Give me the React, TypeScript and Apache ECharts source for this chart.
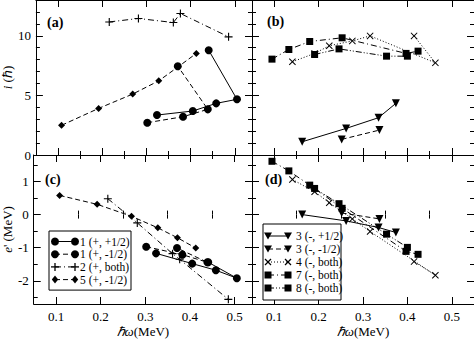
import React, { useEffect, useRef } from 'react';
import * as echarts from 'echarts';

// ---------- data ----------
// panel (a)/(c): positive parity
const s1pX = [0.324, 0.405, 0.458, 0.505, 0.441];
const s1pI = [3.35, 3.69, 4.33, 4.67, 8.79];
const s1pE = [-1.17, -1.48, -1.68, -1.92, -1.44];

const s1mX = [0.302, 0.383, 0.439, 0.371];
const s1mI = [2.71, 3.21, 3.83, 7.45];
const s1mE = [-0.97, -1.21, -1.44, -1.01];

const s2X = [0.216, 0.282, 0.361, 0.377, 0.486];
const s2I = [11.16, 11.45, 11.11, 11.87, 9.91];
const s2E = [0.48, -0.25, -1.18, -1.35, -2.56];

const s5X = [0.108, 0.192, 0.269, 0.328, 0.372, 0.413];
const s5I = [2.49, 3.91, 5.11, 6.22, 7.40, 8.52];
const s5E = [0.58, 0.31, -0.05, -0.40, -0.70, -1.01];

// panel (b)/(d): negative parity
const s3pX = [0.163, 0.262, 0.335, 0.374];
const s3pI = [1.11, 2.23, 3.13, 4.33];
const s3pE = [0.0, -0.19, -0.39, -0.54];

const s3mX = [0.252, 0.337];
const s3mI = [1.31, 2.09];
const s3mE = [0.05, -0.13];

const s4X = [0.141, 0.191, 0.224, 0.276, 0.316, 0.463, 0.415];
const s4I = [7.82, 8.52, 9.16, 9.57, 9.99, 7.73, 9.99];
const s4E = [1.06, 0.69, 0.36, -0.13, -0.51, -1.83, -1.42];

const s7X = [0.095, 0.133, 0.18, 0.253, 0.397, 0.424];
const s7I = [8.04, 8.85, 9.52, 9.83, 8.52, 8.71];
const s7E = [1.61, 1.32, 0.89, 0.19, -1.11, -1.20];

const s8X = [0.191, 0.246, 0.353, 0.40];
const s8I = [8.43, 8.90, 8.29, 8.29];
const s8E = [0.79, 0.33, -0.59, -0.99];

// axis ticks
const xMajor = [0.1, 0.2, 0.3, 0.4, 0.5];
const xMinor = [0.15, 0.25, 0.35, 0.45];
const iLabels = [0, 5, 10];
const iMajor = [5, 10];
const iMinor = [1, 2, 3, 4, 6, 7, 8, 9, 11, 12];
const eLabels = [-2, -1, 0, 1];
const eMinor = [-2.5, -1.5, -0.5, 0.5, 1.5];

const FONT = 'Liberation Serif';

const PLUS = 'path://M0,4.3H10V5.7H0Z M4.3,0H5.7V10H4.3Z';
const CROSS = 'path://M0,1L1,0L5,4L9,0L10,1L6,5L10,9L9,10L5,6L1,10L0,9L4,5Z';

const DASH = [5, 3];
const DASHDOT = [6, 3, 1, 3];
const DASHDOTDOT = [6, 2, 1, 2, 1, 2];
const DOT = [1, 2];

type Def = {
  name: string; x: number[]; top: number[]; bot: number[];
  sym: string; size: number; rot?: number; dash: any; kind: string; side: number;
};

const defs: Def[] = [
  { name: '1 (+, +1/2)', x: s1pX, top: s1pI, bot: s1pE, sym: 'circle', size: 8, dash: 'solid', kind: 'circle', side: 0 },
  { name: '1 (+, -1/2)', x: s1mX, top: s1mI, bot: s1mE, sym: 'circle', size: 8, dash: DASH, kind: 'circle', side: 0 },
  { name: '2 (+, both)', x: s2X, top: s2I, bot: s2E, sym: PLUS, size: 8, dash: DASHDOT, kind: 'plus', side: 0 },
  { name: '5 (+, -1/2)', x: s5X, top: s5I, bot: s5E, sym: 'diamond', size: 7, dash: DASH, kind: 'diamond', side: 0 },
  { name: '3 (-, +1/2)', x: s3pX, top: s3pI, bot: s3pE, sym: 'triangle', size: 8, rot: 180, dash: 'solid', kind: 'tri', side: 1 },
  { name: '3 (-, -1/2)', x: s3mX, top: s3mI, bot: s3mE, sym: 'triangle', size: 8, rot: 180, dash: DASH, kind: 'tri', side: 1 },
  { name: '4 (-, both)', x: s4X, top: s4I, bot: s4E, sym: CROSS, size: 7, dash: DOT, kind: 'cross', side: 1 },
  { name: '7 (-, both)', x: s7X, top: s7I, bot: s7E, sym: 'rect', size: 7, dash: DASHDOT, kind: 'square', side: 1 },
  { name: '8 (-, both)', x: s8X, top: s8I, bot: s8E, sym: 'rect', size: 7, dash: DASHDOTDOT, kind: 'square', side: 1 },
];

// grid geometry
const LEFT_X0 = 31;
const MID_X = 252;
const TOP_Y0 = 0;
const MID_Y = 155;
const BOT_Y1 = 311;

const grids = [
  { left: LEFT_X0, top: TOP_Y0, width: MID_X - LEFT_X0, height: MID_Y - TOP_Y0 }, // a
  { left: MID_X, top: TOP_Y0, width: 225, height: MID_Y - TOP_Y0 }, // b
  { left: LEFT_X0, top: MID_Y, width: MID_X - LEFT_X0, height: BOT_Y1 - MID_Y }, // c
  { left: MID_X, top: MID_Y, width: 225, height: BOT_Y1 - MID_Y }, // d
];

const labelStyle = { fontFamily: FONT, fontSize: 13, color: '#000' };
const nameRich = { it: { fontFamily: FONT, fontSize: 13, fontStyle: 'italic', color: '#000' } };

function xAxes(gi: number, max: number, labels: boolean) {
  const base = { type: 'value', gridIndex: gi, min: 0.05, max, splitLine: { show: false } };
  const line = { show: true, onZero: false, lineStyle: { color: '#000', width: 1 } };
  return [
    {
      ...base, position: 'bottom', axisLine: line,
      axisTick: { show: true, inside: true, length: 7, customValues: xMajor, lineStyle: { color: '#000' } },
      axisLabel: labels
        ? { show: true, customValues: xMajor, margin: 6, ...labelStyle, formatter: (v: number) => v.toFixed(1) }
        : { show: false },
      name: labels ? '{it|ℏω}(MeV)' : '',
      nameLocation: 'middle', nameGap: 21,
      nameTextStyle: { ...labelStyle, rich: nameRich },
    },
    {
      ...base, position: 'bottom', axisLine: { show: false },
      axisTick: { show: true, inside: true, length: 4, customValues: xMinor, lineStyle: { color: '#000' } },
      axisLabel: { show: false },
    },
    {
      ...base, position: 'top', axisLine: line,
      axisTick: { show: true, inside: true, length: 7, customValues: xMajor, lineStyle: { color: '#000' } },
      axisLabel: { show: false },
    },
    {
      ...base, position: 'top', axisLine: { show: false },
      axisTick: { show: true, inside: true, length: 4, customValues: xMinor, lineStyle: { color: '#000' } },
      axisLabel: { show: false },
    },
  ];
}

function yAxes(gi: number, min: number, max: number, lab: number[], major: number[], minor: number[], labels: boolean, name: string) {
  const base = { type: 'value', gridIndex: gi, min, max, splitLine: { show: false } };
  const line = { show: true, onZero: false, lineStyle: { color: '#000', width: 1 } };
  return [
    {
      ...base, position: 'left', axisLine: line,
      axisTick: { show: true, inside: true, length: 7, customValues: major, lineStyle: { color: '#000' } },
      axisLabel: labels ? { show: true, customValues: lab, margin: 5, ...labelStyle } : { show: false },
      name: labels ? name : '',
      nameLocation: 'middle', nameGap: 17,
      nameTextStyle: { ...labelStyle, rich: nameRich },
    },
    {
      ...base, position: 'left', axisLine: { show: false },
      axisTick: { show: true, inside: true, length: 4, customValues: minor, lineStyle: { color: '#000' } },
      axisLabel: { show: false },
    },
    {
      ...base, position: 'right', axisLine: line,
      axisTick: { show: true, inside: true, length: 7, customValues: major, lineStyle: { color: '#000' } },
      axisLabel: { show: false },
    },
    {
      ...base, position: 'right', axisLine: { show: false },
      axisTick: { show: true, inside: true, length: 4, customValues: minor, lineStyle: { color: '#000' } },
      axisLabel: { show: false },
    },
  ];
}

function legendMarker(kind: string, cx: number, cy: number): any[] {
  const st = { fill: '#000' };
  switch (kind) {
    case 'circle':
      return [{ type: 'circle', shape: { cx, cy, r: 4 }, style: st }];
    case 'diamond':
      return [{ type: 'polygon', shape: { points: [[cx, cy - 4], [cx + 3.2, cy], [cx, cy + 4], [cx - 3.2, cy]] }, style: st }];
    case 'square':
      return [{ type: 'rect', shape: { x: cx - 3.5, y: cy - 3.5, width: 7, height: 7 }, style: st }];
    case 'tri':
      return [{ type: 'polygon', shape: { points: [[cx - 4, cy - 3.5], [cx + 4, cy - 3.5], [cx, cy + 3.5]] }, style: st }];
    case 'plus':
      return [
        { type: 'line', shape: { x1: cx - 4, y1: cy, x2: cx + 4, y2: cy }, style: { stroke: '#000', lineWidth: 1.3 } },
        { type: 'line', shape: { x1: cx, y1: cy - 4, x2: cx, y2: cy + 4 }, style: { stroke: '#000', lineWidth: 1.3 } },
      ];
    case 'cross':
    default:
      return [
        { type: 'line', shape: { x1: cx - 3, y1: cy - 3, x2: cx + 3, y2: cy + 3 }, style: { stroke: '#000', lineWidth: 1.3 } },
        { type: 'line', shape: { x1: cx - 3, y1: cy + 3, x2: cx + 3, y2: cy - 3 }, style: { stroke: '#000', lineWidth: 1.3 } },
      ];
  }
}

function legendBox(items: Def[], x: number, y: number, w: number, rowH: number, firstY: number, lx1: number, lx2: number, tx: number): any[] {
  const els: any[] = [];
  const h = firstY - y + rowH * (items.length - 1) + (firstY - y);
  els.push({ type: 'rect', shape: { x, y, width: w, height: h }, style: { fill: '#fff', stroke: '#000', lineWidth: 1 }, z: 100 });
  items.forEach((d, k) => {
    const cy = firstY + k * rowH;
    els.push({
      type: 'line', shape: { x1: lx1, y1: cy, x2: lx2, y2: cy },
      style: { stroke: '#000', lineWidth: 1, lineDash: d.dash === 'solid' ? null : d.dash }, z: 101,
    });
    legendMarker(d.kind, lx1, cy).concat(legendMarker(d.kind, lx2, cy)).forEach((m) => { m.z = 102; els.push(m); });
    els.push({
      type: 'text', x: tx, y: cy, z: 102,
      style: { text: d.name, fontFamily: FONT, fontSize: 11.5, fill: '#000', verticalAlign: 'middle' },
    });
  });
  return els;
}

export default function App() {
  const ref = useRef<HTMLDivElement>(null);
  useEffect(() => {
    document.body.style.margin = '0';
    const chart = echarts.init(ref.current!, null, { renderer: 'svg' });
    const xAxis = [
      ...xAxes(0, 0.539, false),
      ...xAxes(1, 0.55, false),
      ...xAxes(2, 0.539, true),
      ...xAxes(3, 0.55, true),
    ];
    const yAxis = [
      ...yAxes(0, 0, 13, iLabels, iMajor, iMinor, true, '{it|i} (ℏ)'),
      ...yAxes(1, 0, 13, iLabels, iMajor, iMinor, false, ''),
      ...yAxes(2, -2.7, 1.8, eLabels, eLabels, eMinor, true, "{it|e}' (MeV)"),
      ...yAxes(3, -2.7, 1.8, eLabels, eLabels, eMinor, false, ''),
    ];
    const series: any[] = [];
    defs.forEach((d) => {
      [0, 1].forEach((row) => {
        const gi = row * 2 + d.side;
        const ys = row === 0 ? d.top : d.bot;
        series.push({
          type: 'line',
          name: d.name + (row === 0 ? ' top' : ' bottom'),
          xAxisIndex: gi * 4,
          yAxisIndex: gi * 4,
          data: d.x.map((v, i) => [v, ys[i]]),
          symbol: d.sym,
          symbolSize: d.size,
          symbolRotate: d.rot || 0,
          showSymbol: true,
          clip: false,
          lineStyle: { color: '#000', width: 1, type: d.dash },
          itemStyle: { color: '#000', borderWidth: 0 },
          emphasis: { disabled: true },
        });
      });
    });
    const panelLabels = [
      { t: '(a)', x: 47, y: 22 },
      { t: '(b)', x: 267, y: 21 },
      { t: '(c)', x: 45, y: 179 },
      { t: '(d)', x: 265, y: 179 },
    ].map((p) => ({
      type: 'text', x: p.x, y: p.y, z: 100,
      style: { text: p.t, fontFamily: FONT, fontSize: 14, fontWeight: 'bold', fill: '#000', verticalAlign: 'middle' },
    }));
    const graphic = [
      ...panelLabels,
      ...legendBox(defs.slice(0, 4), 49, 231, 82, 12.7, 241.5, 55, 75, 80),
      ...legendBox(defs.slice(4), 263, 224, 78, 13, 236, 268, 288, 296),
    ];
    chart.setOption({
      animation: false,
      backgroundColor: '#fff',
      textStyle: { fontFamily: FONT },
      grid: grids.map((g) => ({ ...g, containLabel: false, show: false })),
      xAxis,
      yAxis,
      series,
      graphic,
    });
    return () => chart.dispose();
  }, []);
  return <div ref={ref} style={{ width: 474, height: 339 }} />;
}
